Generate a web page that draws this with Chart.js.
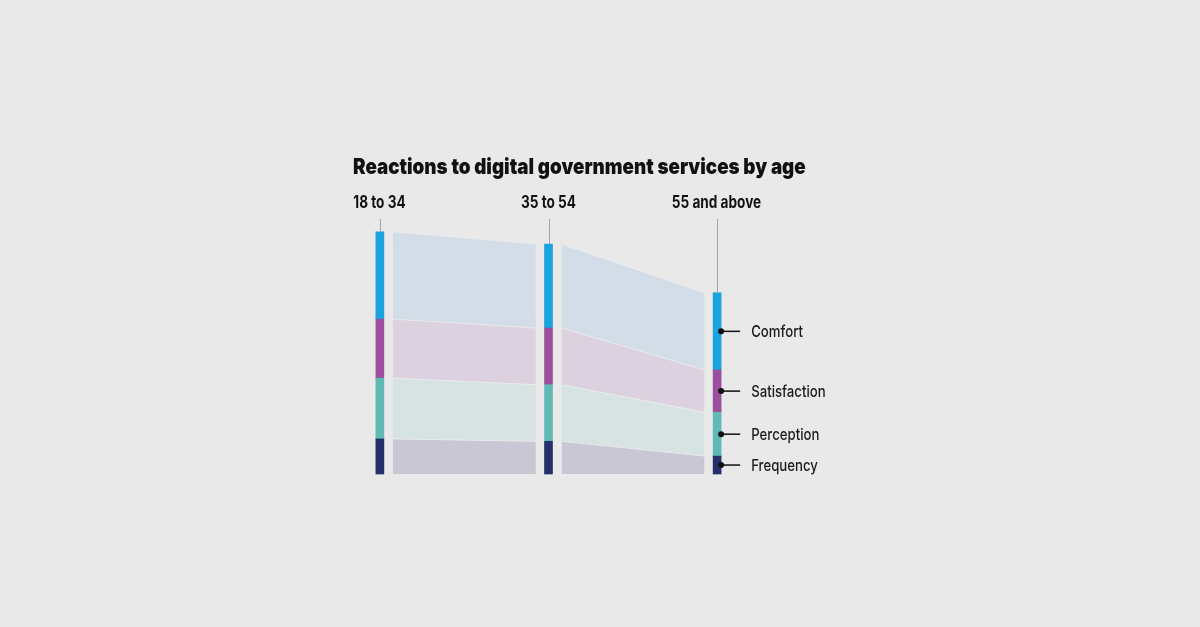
<!DOCTYPE html>
<html>
<head>
<meta charset="utf-8">
<script src="https://cdn.jsdelivr.net/npm/chart.js@4.4.1/dist/chart.umd.min.js"></script>
<style>
  html, body { margin: 0; padding: 0; background: #e8e9e8; }
</style>
</head>
<body>
<canvas id="chartDiv" width="1200" height="627"></canvas>
<script>
const ageGroups = ["18 to 34", "35 to 54", "55 and above"];
const seriesNames = ["Frequency", "Perception", "Satisfaction", "Comfort"];
// stacked from the bottom up
const frequency = [14.5, 13.5, 7.4];
const perception = [25.1, 23.4, 18.1];
const satisfaction = [24.4, 23.4, 17.5];
const comfort = [36.1, 34.7, 31.9];
const barColors = ["#25306b", "#5fbab5", "#9d4f9f", "#1ba3df"];
const bandColors = ["#c8c7d3", "#d7e3e3", "#dcd1df", "#d3dde7"];
const titleText = "Reactions to digital government services by age";

const seriesValues = [frequency, perception, satisfaction, comfort];
const BAND_IN = 0.078, BAND_OUT = 0.075;

function drawText(ctx, text, x, y, font, align, color, squeeze) {
  ctx.save();
  ctx.font = font;
  ctx.fillStyle = color;
  ctx.textAlign = align;
  ctx.textBaseline = "middle";
  ctx.translate(x, y);
  ctx.scale(squeeze, 1);
  ctx.fillText(text, 0, 0);
  ctx.restore();
}

const barSets = seriesValues.map((vals, i) => ({
  type: "bar",
  label: seriesNames[i],
  data: vals.map((v, k) => ({ x: k, y: v })),
  backgroundColor: barColors[i],
  barThickness: 8,
  borderWidth: 0,
}));

const bandSets = [];
for (let s = 0; s < ageGroups.length - 1; s++) {
  seriesValues.forEach((vals, i) => {
    bandSets.push({
      type: "line",
      label: seriesNames[i] + " " + s,
      stack: "band" + s,
      data: [
        { x: s + BAND_IN, y: vals[s] },
        { x: s + 1 - BAND_OUT, y: vals[s + 1] },
      ],
      backgroundColor: bandColors[i],
      borderColor: "rgba(236,238,238,0.8)",
      borderWidth: 1,
      pointRadius: 0,
      tension: 0,
      fill: i === 0 ? "origin" : "-1",
    });
  });
}

const annotations = {
  id: "annotations",
  afterDraw(chart) {
    const { ctx, scales: { x, y } } = chart;
    drawText(ctx, titleText, 353, 167, "900 22px Inter", "left", "#111", 0.855);
    ageGroups.forEach((g, k) => {
      const px = Math.round(x.getPixelForValue(k)) + 0.5;
      const total = seriesValues.reduce((a, vals) => a + vals[k], 0);
      const top = y.getPixelForValue(total);
      drawText(ctx, g, px - 1, 203, "700 17px Inter", "center", "#111", 0.8);
      ctx.save();
      ctx.strokeStyle = "#a3a3a3";
      ctx.lineWidth = 1;
      ctx.beginPath();
      ctx.moveTo(px, 219);
      ctx.lineTo(px, top);
      ctx.stroke();
      ctx.restore();
    });
    const last = ageGroups.length - 1;
    const px = x.getPixelForValue(last);
    let base = 0;
    seriesValues.forEach((vals, i) => {
      const mid = y.getPixelForValue(base + vals[last] / 2);
      base += vals[last];
      ctx.save();
      ctx.fillStyle = "#111";
      ctx.strokeStyle = "#111";
      ctx.lineWidth = 1.5;
      ctx.beginPath();
      ctx.arc(px + 4, mid, 3, 0, Math.PI * 2);
      ctx.fill();
      ctx.beginPath();
      ctx.moveTo(px + 4, mid);
      ctx.lineTo(px + 23, mid);
      ctx.stroke();
      ctx.restore();
      drawText(ctx, seriesNames[i], px + 34, mid + 1, "500 16.5px Inter", "left", "#1a1a1a", 0.8);
    });
  },
};

new Chart(document.getElementById("chartDiv"), {
  type: "bar",
  data: { datasets: [...barSets, ...bandSets] },
  options: {
    responsive: false,
    animation: false,
    layout: { padding: { left: 363, right: 466, top: 232, bottom: 153 } },
    plugins: {
      legend: { display: false },
      tooltip: { enabled: false },
    },
    datasets: { bar: { clip: false }, line: { clip: false } },
    scales: {
      x: { type: "linear", min: -0.1, max: 2.1, offset: false, display: false, stacked: true },
      y: { min: 0, max: 100, display: false, stacked: true },
    },
  },
  plugins: [annotations],
});
</script>
</body>
</html>
